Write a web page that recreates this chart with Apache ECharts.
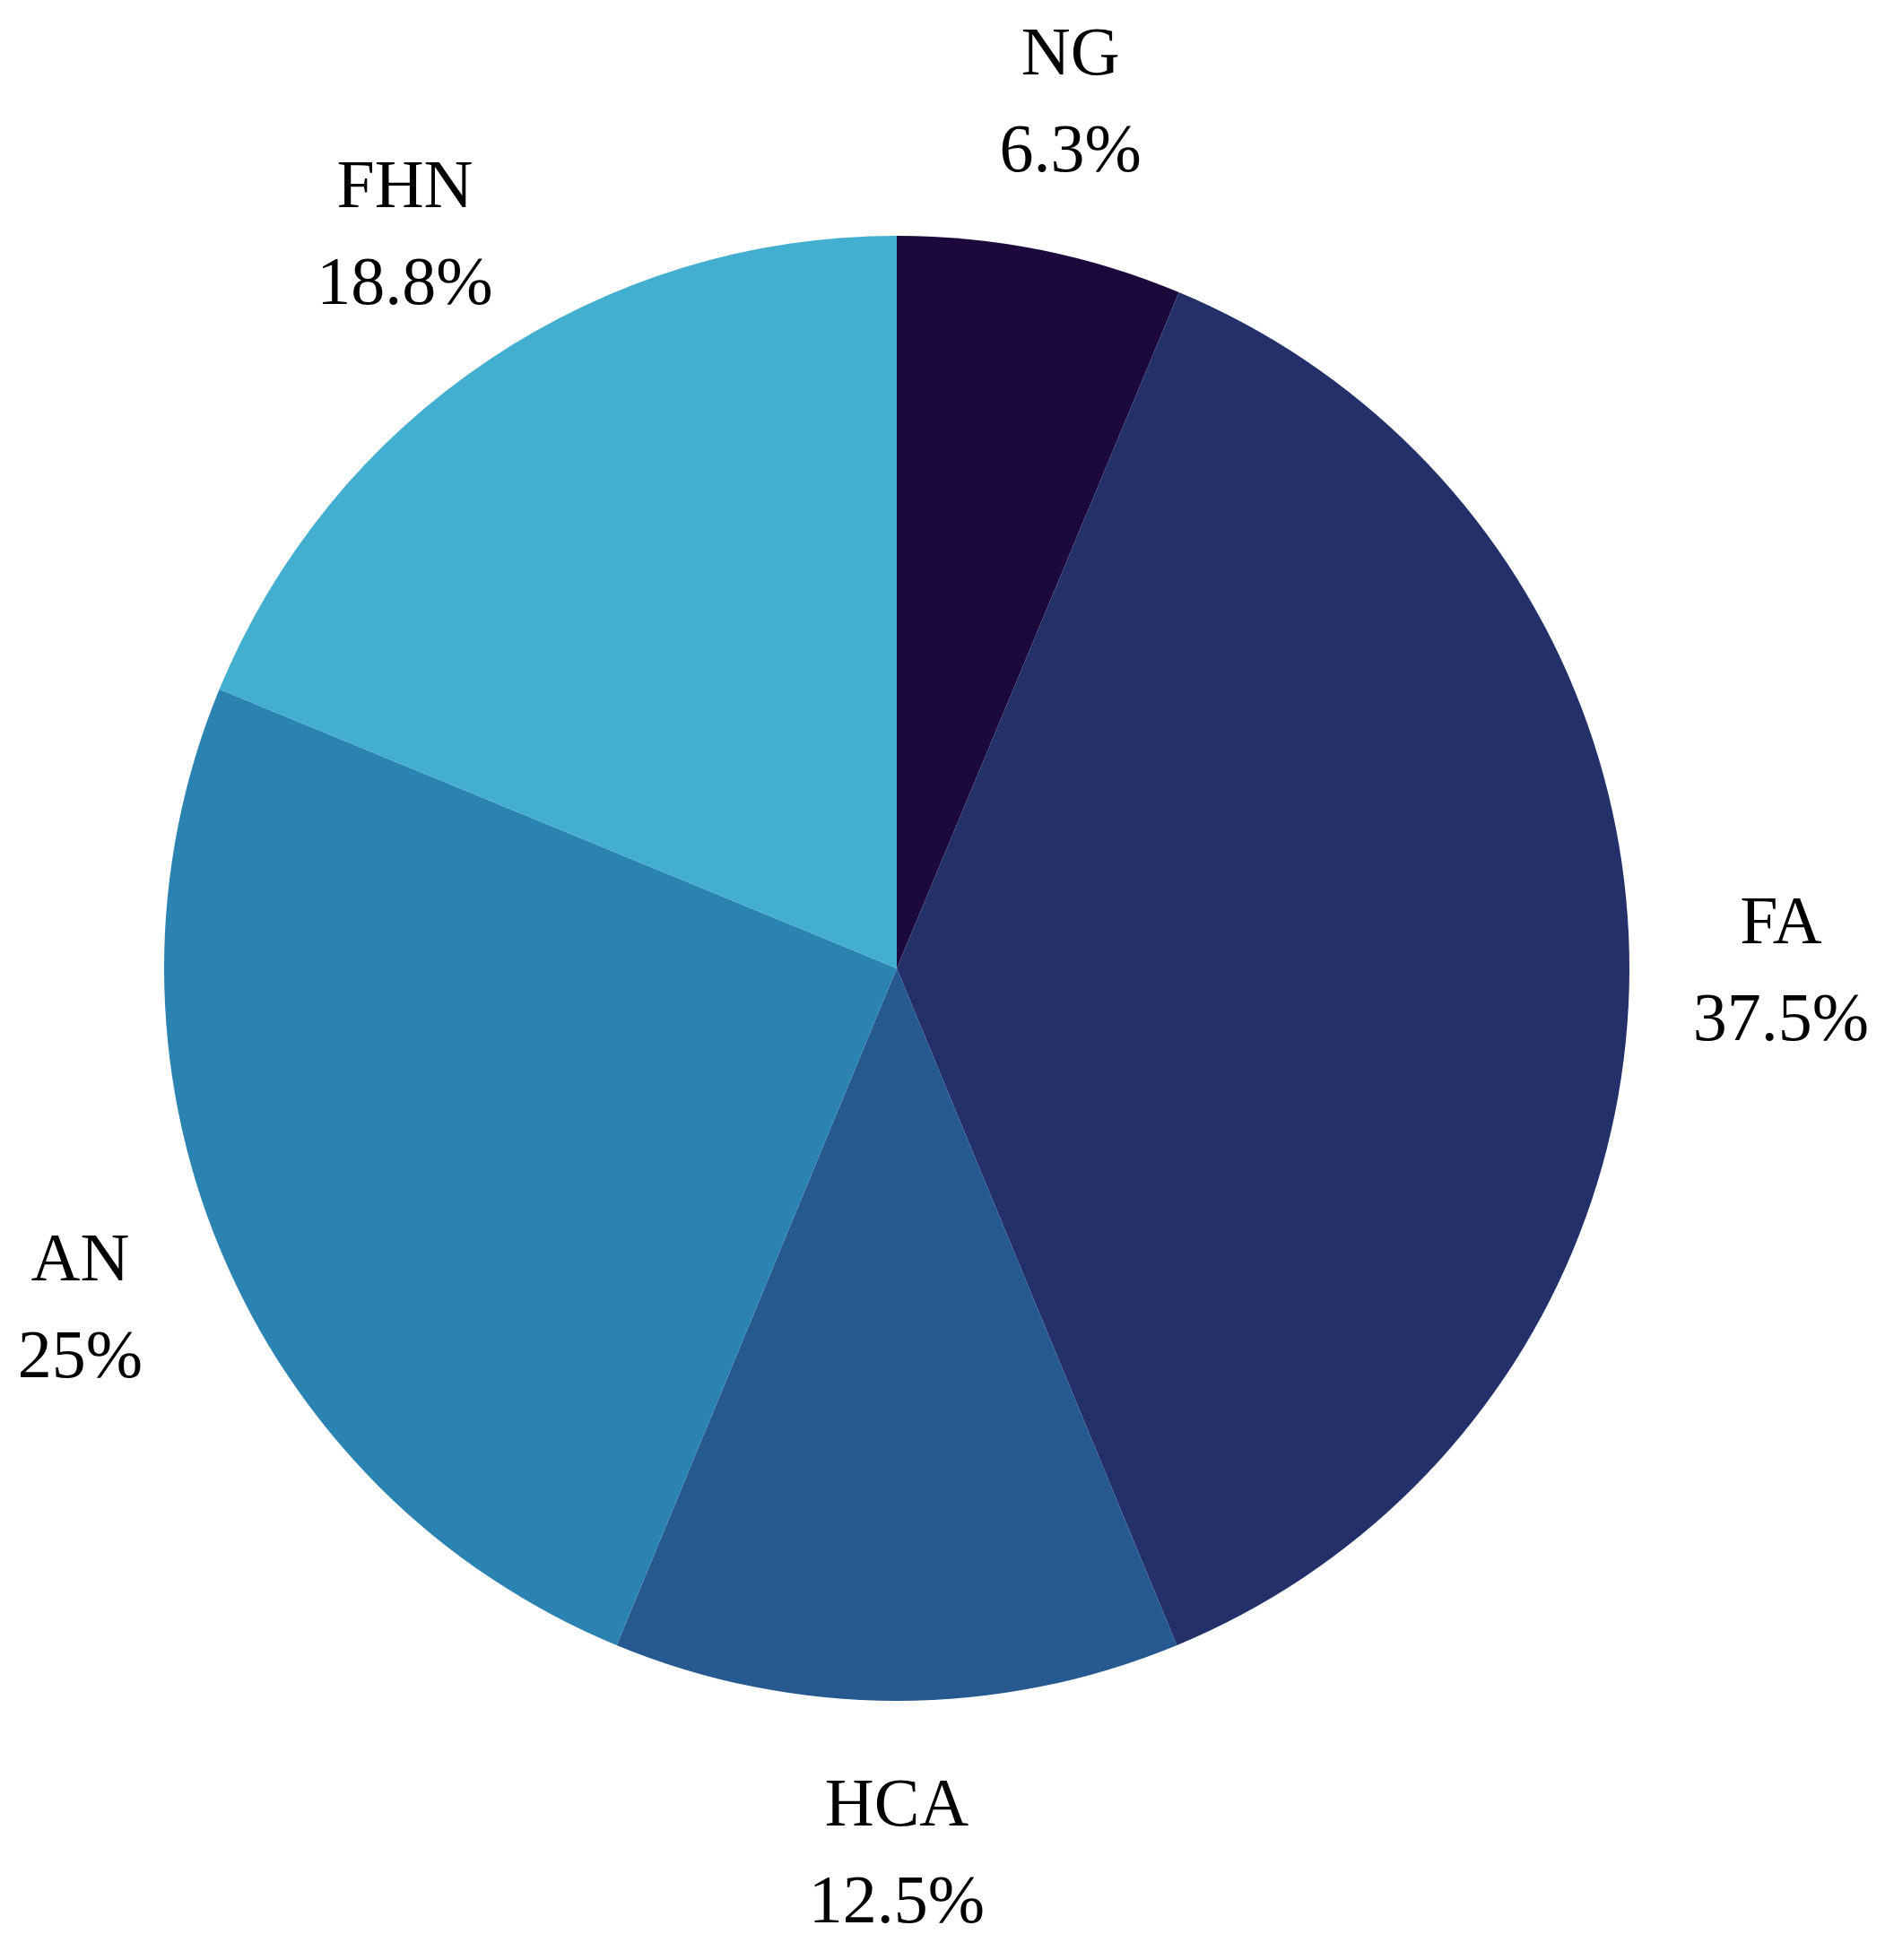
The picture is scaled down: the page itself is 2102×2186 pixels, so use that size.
<!DOCTYPE html>
<html>
<head>
<meta charset="utf-8">
<script src="https://cdn.jsdelivr.net/npm/echarts@6/dist/echarts.min.js"></script>
<style>
html,body{margin:0;padding:0;background:#fff;}
#main{width:2102px;height:2186px;}
</style>
</head>
<body>
<div id="main"></div>
<script>
const categories = ['NG', 'FA', 'HCA', 'AN', 'FHN'];
const values = [6.3, 37.5, 12.5, 25, 18.8];
const colors = ['#1b093c', '#23306a', '#25598f', '#2b83b1', '#42afd0'];

const pieData = categories.map((name, i) => ({ name: name, value: values[i] }));

const chart = echarts.init(document.getElementById('main'), null, { renderer: 'canvas' });
chart.setOption({
  backgroundColor: '#ffffff',
  animation: false,
  series: [
    {
      type: 'pie',
      center: [1000, 1080],
      radius: [0, 817],
      startAngle: 90,
      clockwise: true,
      silent: true,
      color: colors,
      label: { show: false },
      labelLine: { show: false },
      itemStyle: { borderWidth: 0 },
      data: pieData
    },
    {
      type: 'pie',
      center: [1000, 1080],
      radius: [900, 1066],
      startAngle: 90,
      clockwise: true,
      silent: true,
      itemStyle: { color: 'rgba(0,0,0,0)', borderWidth: 0 },
      label: {
        show: true,
        position: 'inside',
        formatter: '{b}\n{c}%',
        fontFamily: '"Liberation Serif", "Times New Roman", serif',
        fontSize: 76,
        lineHeight: 108,
        color: '#000000',
        align: 'center',
        offset: [0, 4]
      },
      labelLine: { show: false },
      data: pieData
    }
  ]
});
</script>
</body>
</html>
